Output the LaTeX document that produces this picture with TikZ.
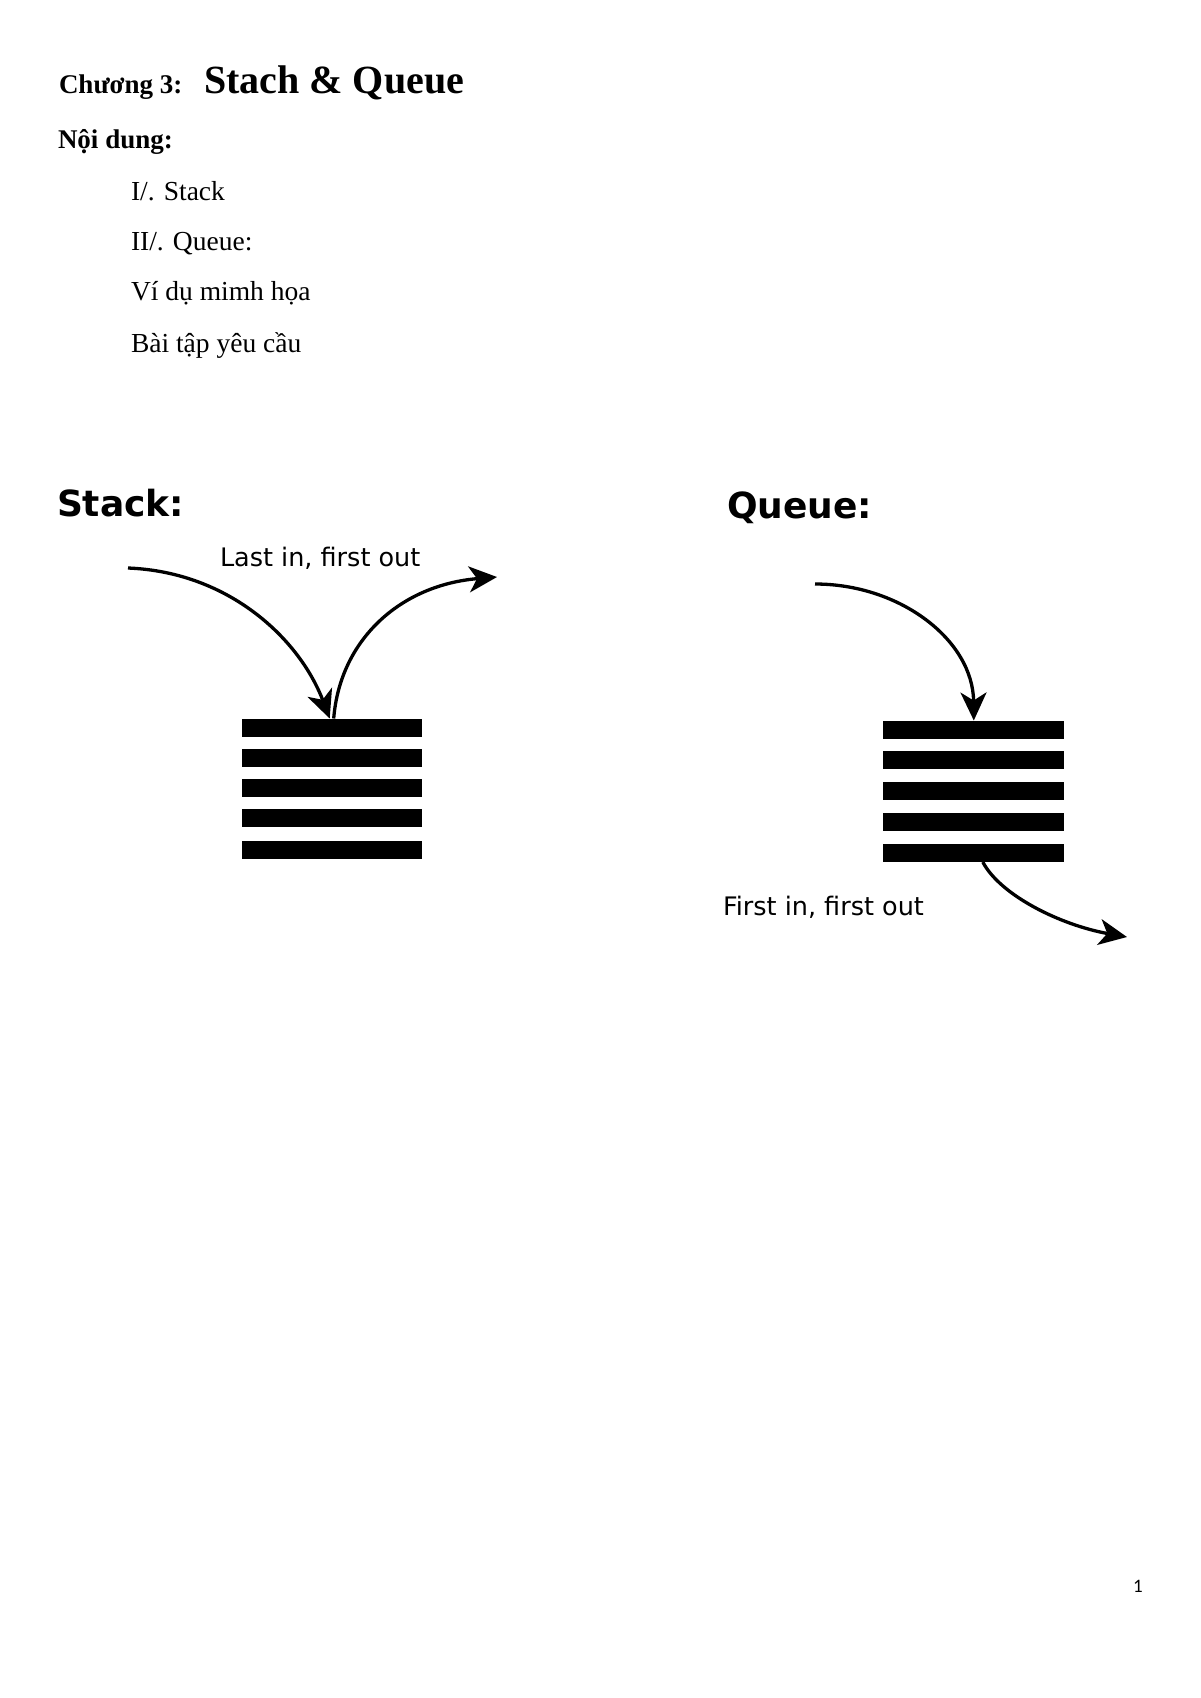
\documentclass[tikz,border=0pt]{standalone}
\usepackage{fontspec}
\setmainfont{Liberation Serif}
\newfontfamily\dejavu{DejaVu Sans}
\newfontfamily\carlito{Carlito}
\usetikzlibrary{arrows.meta}
\begin{document}
\begin{tikzpicture}[x=1pt,y=-1pt,
  txt/.style={anchor=base west,inner sep=0pt,outer sep=0pt},
  bar/.style={fill=black,draw=none,minimum width=180pt,minimum height=18pt,inner sep=0pt,outer sep=0pt},
  flow/.style={line width=3.3pt,-{Stealth[length=28pt,width=26pt,inset=8pt]}}]
\useasboundingbox (0,0) rectangle (1200,1698);
\fill[white] (0,0) rectangle (1200,1698);
% header text
\node[txt] (ch) at (59,93) {\fontsize{27}{30}\selectfont\bfseries Chương 3:};
\node[txt] (title) at (204,93) {\fontsize{40}{44}\selectfont\bfseries Stach \& Queue};
\node[txt] (nd) at (58,148) {\fontsize{27}{30}\selectfont\bfseries Nội dung:};
\node[txt] (i1) at (131,200) {\fontsize{27.5}{30}\selectfont I/. Stack};
\node[txt] (i2) at (131,250) {\fontsize{27.5}{30}\selectfont II/. Queue:};
\node[txt] (i3) at (131,300) {\fontsize{27.5}{30}\selectfont Ví dụ mimh họa};
\node[txt] (i4) at (131,352) {\fontsize{27.5}{30}\selectfont Bài tập yêu cầu};
% stack
\node[txt] (stk) at (57,516) {\dejavu\fontsize{36}{40}\selectfont\bfseries Stack:};
\node[txt] (lifo) at (220,566) {\dejavu\fontsize{25.5}{30}\selectfont Last in, first out};
\node[bar] (s1) at (331.7,727.5) {};
\node[bar] (s2) at (331.7,758) {};
\node[bar] (s3) at (331.7,788) {};
\node[bar] (s4) at (331.7,818.3) {};
\node[bar] (s5) at (331.7,850) {};
\coordinate (sin) at (128,568);
\coordinate (sout) at (497,577);
\draw[flow] (sin) .. controls (230,572) and (300,640) .. ([xshift=-2pt]s1.north);
\draw[flow] ([xshift=2pt]s1.north) .. controls (340,640) and (400,585) .. (sout);
% queue
\node[txt] (que) at (727,518) {\dejavu\fontsize{36}{40}\selectfont\bfseries Queue:};
\node[txt] (fifo) at (723,915) {\dejavu\fontsize{25.5}{30}\selectfont First in, first out};
\node[bar,minimum width=181pt] (q1) at (973.8,729.5) {};
\node[bar,minimum width=181pt] (q2) at (973.8,760.3) {};
\node[bar,minimum width=181pt] (q3) at (973.8,790.5) {};
\node[bar,minimum width=181pt] (q4) at (973.8,821.7) {};
\node[bar,minimum width=181pt] (q5) at (973.8,853) {};
\coordinate (qin) at (815,584);
\coordinate (qout) at (1127,937);
\draw[flow] (qin) .. controls (900,584) and (973,640) .. (q1.north);
\draw[flow] ([xshift=9pt]q5.south) .. controls (1000,895) and (1060,925) .. (qout);
% page number
\node[txt] (pg) at (1133,1592) {\carlito\fontsize{19}{20}\selectfont 1};
\end{tikzpicture}
\end{document}
